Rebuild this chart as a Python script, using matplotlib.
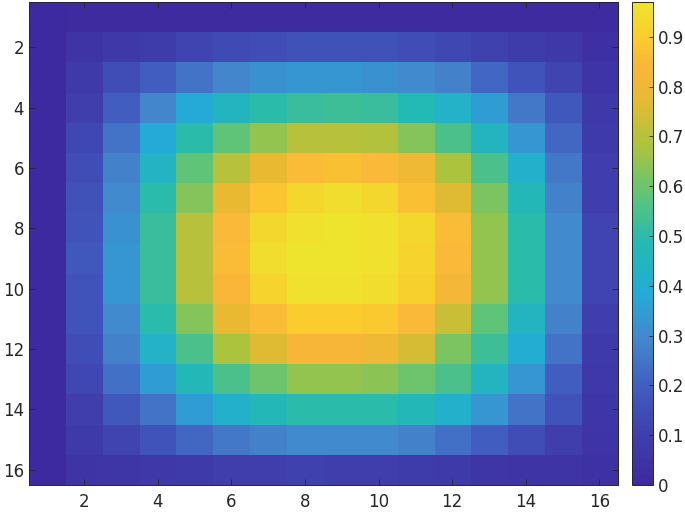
import numpy as np
import matplotlib
matplotlib.use("Agg")
import matplotlib.pyplot as plt
from matplotlib.colors import LinearSegmentedColormap

# values, row by row (row 1 at the top)
row01 = [0.00, 0.01, 0.01, 0.01, 0.01, 0.01, 0.01, 0.01, 0.01, 0.01, 0.01, 0.01, 0.01, 0.01, 0.01, 0.01]
row02 = [0.00, 0.05, 0.07, 0.09, 0.12, 0.14, 0.15, 0.16, 0.16, 0.16, 0.15, 0.13, 0.11, 0.09, 0.07, 0.03]
row03 = [0.00, 0.08, 0.15, 0.20, 0.25, 0.29, 0.32, 0.33, 0.33, 0.32, 0.30, 0.28, 0.22, 0.17, 0.12, 0.05]
row04 = [0.00, 0.10, 0.20, 0.29, 0.38, 0.45, 0.50, 0.52, 0.53, 0.52, 0.48, 0.43, 0.35, 0.26, 0.18, 0.07]
row05 = [0.00, 0.13, 0.25, 0.38, 0.50, 0.58, 0.65, 0.70, 0.70, 0.69, 0.63, 0.55, 0.45, 0.33, 0.22, 0.08]
row06 = [0.00, 0.15, 0.28, 0.44, 0.58, 0.70, 0.78, 0.86, 0.87, 0.85, 0.80, 0.68, 0.55, 0.42, 0.26, 0.10]
row07 = [0.00, 0.16, 0.30, 0.50, 0.63, 0.78, 0.88, 0.93, 0.95, 0.93, 0.87, 0.76, 0.62, 0.47, 0.28, 0.10]
row08 = [0.00, 0.17, 0.32, 0.52, 0.70, 0.85, 0.93, 0.96, 0.97, 0.96, 0.93, 0.86, 0.65, 0.50, 0.30, 0.12]
row09 = [0.00, 0.18, 0.33, 0.52, 0.70, 0.86, 0.95, 0.97, 0.97, 0.96, 0.92, 0.85, 0.65, 0.50, 0.30, 0.12]
row10 = [0.00, 0.17, 0.33, 0.52, 0.70, 0.84, 0.92, 0.96, 0.96, 0.95, 0.91, 0.82, 0.65, 0.50, 0.30, 0.12]
row11 = [0.00, 0.17, 0.30, 0.50, 0.63, 0.78, 0.86, 0.90, 0.90, 0.89, 0.85, 0.73, 0.58, 0.45, 0.28, 0.10]
row12 = [0.00, 0.15, 0.28, 0.43, 0.55, 0.68, 0.76, 0.83, 0.83, 0.80, 0.75, 0.62, 0.53, 0.40, 0.25, 0.08]
row13 = [0.00, 0.13, 0.24, 0.35, 0.47, 0.55, 0.60, 0.65, 0.65, 0.64, 0.60, 0.55, 0.45, 0.33, 0.20, 0.07]
row14 = [0.00, 0.10, 0.18, 0.25, 0.35, 0.42, 0.47, 0.50, 0.50, 0.50, 0.47, 0.42, 0.33, 0.25, 0.17, 0.06]
row15 = [0.00, 0.08, 0.12, 0.17, 0.22, 0.26, 0.28, 0.30, 0.30, 0.30, 0.28, 0.24, 0.20, 0.15, 0.10, 0.05]
row16 = [0.00, 0.05, 0.06, 0.07, 0.08, 0.10, 0.10, 0.11, 0.10, 0.10, 0.09, 0.08, 0.06, 0.05, 0.05, 0.04]

ticks = [2, 4, 6, 8, 10, 12, 14, 16]
cbar_ticks = [0, 0.1, 0.2, 0.3, 0.4, 0.5, 0.6, 0.7, 0.8, 0.9]

Z = np.array([row01, row02, row03, row04, row05, row06, row07, row08,
              row09, row10, row11, row12, row13, row14, row15, row16])

# parula-like map, tuned by eye to the muted colours of the reference colorbar
stops = [
    (0.00, (62, 42, 160)),
    (0.10, (63, 62, 172)),
    (0.20, (65, 92, 192)),
    (0.30, (68, 135, 205)),
    (0.40, (35, 172, 215)),
    (0.50, (35, 186, 178)),
    (0.60, (95, 196, 120)),
    (0.70, (170, 196, 62)),
    (0.80, (232, 186, 50)),
    (0.87, (250, 182, 58)),
    (0.93, (250, 205, 45)),
    (1.00, (238, 228, 45)),
]
parula = LinearSegmentedColormap.from_list(
    'parula_ish', [(p, tuple(c / 255 for c in rgb)) for p, rgb in stops], N=256)

grey = (0.15, 0.15, 0.15)
plt.rcParams['font.family'] = 'DejaVu Sans'
plt.rcParams['font.size'] = 12

fig = plt.figure(figsize=(6.85, 5.12), dpi=100)
ax = fig.add_axes([0.042, 0.053, 0.860, 0.943])
cax = fig.add_axes([0.923, 0.053, 0.030, 0.943])

im = ax.imshow(Z, cmap=parula, vmin=Z.min(), vmax=Z.max(), aspect='auto',
               interpolation='nearest', extent=[0.5, 16.5, 16.5, 0.5])
ax.set_xticks(ticks)
ax.set_yticks(ticks)
ax.tick_params(direction='in', length=4, width=0.6, color=grey, labelcolor=grey,
               top=True, right=True, labelsize=12)
ax.tick_params(axis='x', pad=6)
for s in ax.spines.values():
    s.set_color(grey)
    s.set_linewidth(0.7)

cb = fig.colorbar(im, cax=cax, ticks=cbar_ticks)
cb.ax.set_yticklabels(['0', '0.1', '0.2', '0.3', '0.4', '0.5', '0.6', '0.7', '0.8', '0.9'])
cb.ax.tick_params(direction='in', length=3, width=0.6, color=grey, labelcolor=grey,
                  labelsize=12, pad=4)
cb.outline.set_edgecolor(grey)
cb.outline.set_linewidth(0.7)

fig.savefig('out.png', dpi=100)
